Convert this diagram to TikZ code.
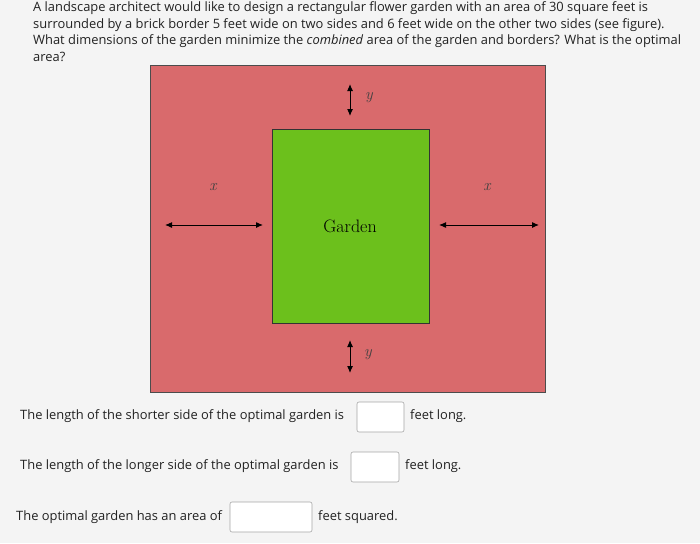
\documentclass[tikz,border=0pt]{standalone}
\usepackage{fontspec}
\usetikzlibrary{arrows.meta}
\setmainfont{Open Sans}
\newfontfamily\serifm{Latin Modern Roman}
\definecolor{brick}{HTML}{D96A6C}
\definecolor{grass}{HTML}{6CC01C}
\definecolor{txt}{HTML}{222222}
\definecolor{bg}{HTML}{F4F4F4}
\begin{document}
\begin{tikzpicture}[x=1pt,y=-1pt,
  body/.style={anchor=west,inner sep=0pt,text=txt,font=\fontsize{12.9}{15}\selectfont},
  ansbox/.style={draw=black!35,fill=white,rounded corners=2pt,line width=0.6pt},
  arr/.style={{Latex[length=7pt,width=6pt]}-{Latex[length=7pt,width=6pt]},line width=1pt},
  var/.style={font=\serifm\itshape\fontsize{16}{18}\selectfont,text=black!75}]
\clip (0,0) rectangle (700,543);
\fill[bg] (0,0) rectangle (700,543);
\node[body] (l1) at (33,8) {A landscape architect would like to design a rectangular flower garden with an area of 30 square feet is};
\node[body] (l2) at (33,25) {surrounded by a brick border 5 feet wide on two sides and 6 feet wide on the other two sides (see figure).};
\node[body] (l3) at (33,41) {What dimensions of the garden minimize the \textit{combined} area of the garden and borders? What is the optimal};
\node[body] (l4) at (33,57) {area?};
\draw[black!70,fill=brick,line width=0.8pt] (150,65) rectangle (545,392);
\draw[black!80,fill=grass,line width=1pt] (272,129) rectangle (429,323);
\node[font=\serifm\fontsize{18}{20}\selectfont] (g) at (350,226) {Garden};
\coordinate (ty1) at (350,84); \coordinate (ty2) at (350,116);
\draw[arr] (ty1) -- (ty2);
\node[var] (y1) at (369,98) {y};
\coordinate (by1) at (350,340); \coordinate (by2) at (350,373);
\draw[arr] (by1) -- (by2);
\node[var] (y2) at (368,355) {y};
\coordinate (la) at (165,225); \coordinate (lb) at (263,225);
\draw[arr] (la) -- (lb);
\coordinate (ra) at (439,225); \coordinate (rb) at (539,225);
\draw[arr] (ra) -- (rb);
\node[var] (x1) at (213,187) {x};
\node[var] (x2) at (487,187) {x};
\node[body] (q1) at (20,416) {The length of the shorter side of the optimal garden is};
\draw[ansbox] (357,402) rectangle (404,432);
\node[body] (f1) at (410,416) {feet long.};
\node[body] (q2) at (20,466) {The length of the longer side of the optimal garden is};
\draw[ansbox] (351,452) rectangle (399,482);
\node[body] (f2) at (405,466) {feet long.};
\node[body] (q3) at (16,517) {The optimal garden has an area of};
\draw[ansbox] (230,502) rectangle (312,532);
\node[body] (f3) at (318,517) {feet squared.};
\end{tikzpicture}
\end{document}
